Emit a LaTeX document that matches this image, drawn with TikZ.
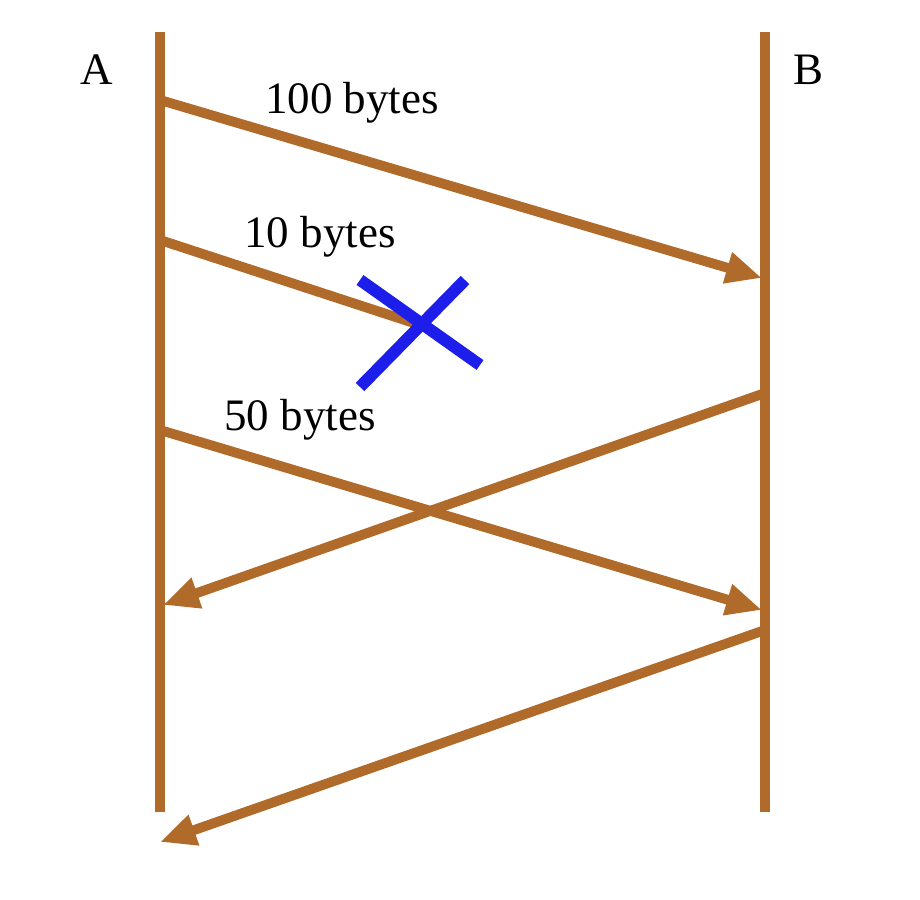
\documentclass[tikz,border=0pt]{standalone}
\usepackage{fontspec}
\setmainfont{Liberation Serif}
\usetikzlibrary{arrows.meta}
\definecolor{wire}{RGB}{176,106,42}
\definecolor{lost}{RGB}{30,30,235}
\tikzset{
  line/.style={wire, line width=7pt},
  msg/.style={line, -{Triangle[length=0.9cm,width=0.75cm]}},
  label/.style={font=\fontsize{32}{38}\selectfont}
}
\begin{document}
\begin{tikzpicture}[x=0.025cm, y=-0.025cm]
  \useasboundingbox (0,0) rectangle (920,900);
  % time lines
  \coordinate (Atop) at (160,32);  \coordinate (Abot) at (160,812);
  \coordinate (Btop) at (765,32);  \coordinate (Bbot) at (765,812);
  \draw[line] (Atop) -- (Abot);
  \draw[line] (Btop) -- (Bbot);
  \node[label] (A) at (97,70) {A};
  \node[label] (B) at (808,70) {B};

  % messages
  \coordinate (s1) at (160,100); \coordinate (r1) at (762,278);
  \coordinate (s2) at (160,240); \coordinate (x2) at (420,325);
  \coordinate (s3) at (160,430); \coordinate (r3) at (762,610);
  \coordinate (s4) at (765,393); \coordinate (r4) at (163,605);
  \coordinate (s5) at (765,630); \coordinate (r5) at (160,842);
  \draw[msg] (s1) -- (r1);
  \draw[line] (s2) -- (x2);
  \draw[msg] (s3) -- (r3);
  \draw[msg] (s4) -- (r4);
  \draw[msg] (s5) -- (r5);

  \node[label] (l1) at (352,103) {100 bytes};
  \node[label] (l2) at (320,237) {10 bytes};
  \node[label] (l3) at (300,420) {50 bytes};

  % lost segment
  \draw[lost, line width=8.5pt] (360,280) -- (480,365);
  \draw[lost, line width=8.5pt] (465,280) -- (360,387);
\end{tikzpicture}
\end{document}
